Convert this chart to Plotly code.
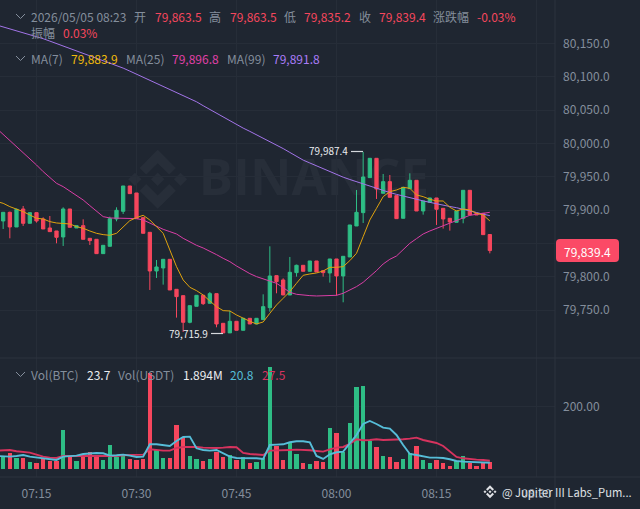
import pandas as pd
import plotly.graph_objects as go

# one minute candles, 07:09 is just off the left edge
times = pd.date_range('2026-05-05 07:09', periods=75, freq='min')

opens = [79886.0, 79883.8, 79896.8, 79874.8, 79901.8, 79880.3, 79896.3, 79886.8, 79873.3, 79868.8, 79859.8,
         79901.8, 79873.3, 79876.8, 79857.8, 79856.3, 79834.8, 79845.8, 79886.8, 79898.3, 79936.3, 79925.8,
         79888.8, 79866.8, 79808.8, 79813.3, 79826.3, 79781.3, 79771.8, 79731.8, 79755.8, 79772.3, 79760.3,
         79774.8, 79730.3, 79715.9, 79733.3, 79719.8, 79737.8, 79729.3, 79735.8, 79753.8, 79801.8, 79795.3,
         79772.8, 79806.3, 79817.3, 79808.3, 79823.8, 79809.3, 79805.8, 79826.8, 79801.3, 79829.8, 79876.3,
         79896.3, 79948.8, 79977.8, 79925.3, 79942.8, 79921.8, 79887.8, 79932.3, 79944.8, 79898.8, 79911.8,
         79918.3, 79902.8, 79887.8, 79881.8, 79887.8, 79929.8, 79895.3, 79895.3, 79863.5]
highs = [79890.0, 79896.8, 79897.8, 79902.3, 79906.3, 79896.3, 79896.3, 79889.3, 79891.3, 79868.8, 79904.3,
         79901.8, 79876.8, 79886.3, 79857.8, 79856.3, 79847.3, 79890.3, 79904.3, 79936.3, 79936.3, 79925.8,
         79888.8, 79866.8, 79825.3, 79826.3, 79826.3, 79781.3, 79771.8, 79756.8, 79772.3, 79772.3, 79777.3,
         79774.8, 79730.3, 79749.3, 79733.3, 79737.8, 79737.8, 79737.8, 79773.8, 79845.8, 79801.8, 79797.8,
         79829.8, 79818.3, 79817.3, 79823.8, 79823.8, 79809.3, 79826.8, 79826.8, 79830.8, 79877.8, 79930.3,
         79987.4, 79977.8, 79977.8, 79954.3, 79952.8, 79921.8, 79934.3, 79955.3, 79944.8, 79913.8, 79918.3,
         79918.3, 79902.8, 79887.8, 79898.8, 79929.8, 79929.8, 79895.3, 79895.3, 79863.5]
lows = [79880.0, 79871.8, 79857.8, 79874.8, 79876.3, 79880.3, 79881.3, 79871.8, 79867.8, 79850.3, 79846.3,
        79874.3, 79873.3, 79856.3, 79847.8, 79834.8, 79834.8, 79845.8, 79883.3, 79894.3, 79924.8, 79887.3,
        79865.3, 79780.3, 79798.3, 79788.3, 79780.3, 79738.8, 79717.3, 79730.3, 79755.8, 79757.8, 79760.3,
        79724.3, 79715.9, 79715.9, 79719.8, 79719.8, 79729.3, 79729.3, 79735.8, 79747.8, 79775.3, 79772.8,
        79772.8, 79800.3, 79808.3, 79808.3, 79807.3, 79800.3, 79791.3, 79771.8, 79761.8, 79829.8, 79876.3,
        79880.8, 79948.8, 79916.8, 79925.3, 79919.3, 79887.3, 79887.8, 79932.3, 79898.8, 79893.3, 79911.8,
        79877.8, 79872.3, 79869.3, 79881.8, 79880.3, 79892.8, 79892.8, 79863.3, 79835.2]
closes = [79884.0, 79896.8, 79874.8, 79901.3, 79880.3, 79896.3, 79883.8, 79871.8, 79867.8, 79859.3, 79901.8,
          79874.3, 79876.8, 79856.3, 79854.3, 79834.8, 79847.3, 79887.3, 79899.8, 79936.3, 79924.8, 79887.3,
          79865.3, 79808.8, 79814.8, 79826.3, 79780.3, 79770.3, 79731.8, 79756.8, 79772.3, 79759.8, 79774.8,
          79729.3, 79715.9, 79733.3, 79719.8, 79737.8, 79729.3, 79737.8, 79755.3, 79801.3, 79792.8, 79772.8,
          79806.8, 79817.3, 79808.3, 79823.8, 79807.3, 79806.3, 79826.8, 79801.3, 79830.8, 79877.8, 79896.8,
          79949.8, 79977.8, 79931.8, 79942.8, 79919.3, 79887.3, 79934.3, 79944.8, 79898.8, 79913.8, 79918.3,
          79901.3, 79886.8, 79882.3, 79898.8, 79929.8, 79892.8, 79892.8, 79863.3, 79839.4]

ma7 = [79913.0, 79910.3, 79905.3, 79901.8, 79897.8, 79892.8, 79887.8, 79886.8, 79882.8, 79880.8, 79880.3,
       79879.3, 79875.3, 79872.8, 79868.8, 79865.3, 79863.3, 79862.3, 79865.3, 79875.3, 79884.3, 79888.8,
       79892.3, 79885.3, 79875.3, 79865.3, 79840.3, 79815.3, 79795.3, 79784.3, 79779.3, 79772.8, 79763.8,
       79755.3, 79749.3, 79748.8, 79742.8, 79737.8, 79733.3, 79729.3, 79732.3, 79745.3, 79757.8, 79767.8,
       79777.8, 79790.3, 79802.3, 79804.3, 79805.8, 79808.8, 79814.3, 79814.3, 79815.3, 79824.3, 79835.3,
       79860.3, 79885.3, 79902.8, 79920.3, 79927.8, 79930.3, 79934.3, 79932.8, 79922.8, 79920.3, 79916.3,
       79913.8, 79913.8, 79904.3, 79898.8, 79901.8, 79900.3, 79895.3, 79892.8, 79883.9]
ma25 = [80022.8, 80013.8, 80004.3, 79995.3, 79986.3, 79977.3, 79967.8, 79957.8, 79948.8, 79940.3, 79935.3,
        79928.8, 79922.8, 79915.3, 79906.8, 79898.3, 79890.3, 79888.3, 79887.8, 79887.3, 79886.8, 79887.3,
        79885.3, 79880.3, 79875.3, 79871.3, 79867.8, 79864.3, 79857.8, 79852.3, 79847.3, 79843.3, 79838.8,
        79833.3, 79827.8, 79822.8, 79816.3, 79810.3, 79804.8, 79800.3, 79796.8, 79793.8, 79790.3, 79783.8,
        79776.8, 79773.8, 79772.3, 79771.8, 79771.3, 79771.3, 79771.3, 79772.3, 79775.3, 79780.3, 79785.3,
        79791.8, 79800.3, 79809.3, 79819.3, 79826.3, 79831.3, 79841.3, 79850.3, 79857.3, 79864.3, 79868.8,
        79872.8, 79876.3, 79880.8, 79885.3, 79889.3, 79892.3, 79893.8, 79895.3, 79896.8]
ma99 = [80177.8, 80174.9, 80172.2, 80169.5, 80166.8, 80164.0, 80160.8, 80157.2, 80153.6, 80150.0, 80146.4,
        80142.8, 80139.2, 80135.5, 80131.7, 80128.1, 80124.4, 80120.6, 80116.9, 80113.1, 80108.6, 80104.1,
        80099.5, 80095.0, 80090.5, 80085.8, 80081.3, 80077.1, 80072.8, 80068.3, 80062.6, 80056.7, 80050.9,
        80045.2, 80039.3, 80033.5, 80028.1, 80023.1, 80018.2, 80013.1, 80008.1, 80003.2, 79998.1, 79992.4,
        79986.6, 79980.8, 79975.1, 79970.8, 79966.3, 79961.9, 79957.4, 79953.1, 79949.5, 79946.0, 79942.6,
        79939.1, 79935.5, 79932.1, 79928.9, 79926.4, 79923.7, 79921.0, 79918.3, 79916.2, 79913.9, 79911.7,
        79909.4, 79907.5, 79905.5, 79903.7, 79901.6, 79899.1, 79896.5, 79894.0, 79891.8]

volumes = [40.0, 43.7, 53.3, 37.3, 37.3, 23.4, 19.2, 32.0, 27.7, 27.7, 126.7, 40.5, 27.7, 44.7, 55.4, 38.3,
           29.8, 76.7, 40.5, 42.6, 32.0, 29.8, 32.0, 308.9, 61.8, 37.3, 36.2, 142.7, 104.4, 42.6, 34.1, 27.7,
           33.0, 55.4, 40.5, 44.7, 29.8, 40.5, 21.3, 23.4, 35.1, 328.0, 74.6, 29.8, 83.1, 49.0, 19.2, 17.0,
           25.6, 23.4, 131.0, 115.0, 56.4, 147.0, 262.0, 266.0, 91.6, 70.3, 42.6, 40.5, 23.4, 33.0, 51.1,
           74.6, 29.8, 20.2, 29.8, 20.2, 10.7, 25.6, 42.6, 21.3, 10.7, 19.2, 23.7]
vol_ma5 = [42.6, 41.5, 40.5, 42.6, 45.8, 40.5, 37.3, 34.1, 32.0, 29.8, 40.5, 42.6, 43.7, 49.0, 51.1, 52.2,
           51.1, 43.7, 44.7, 46.9, 43.7, 39.4, 40.5, 79.9, 79.9, 77.7, 74.6, 90.5, 103.3, 104.4, 67.1, 61.8,
           59.6, 61.8, 50.1, 40.5, 36.2, 36.2, 36.2, 35.1, 33.0, 77.7, 78.8, 79.9, 86.3, 89.5, 89.5, 86.3,
           42.6, 33.0, 47.9, 54.3, 56.4, 83.1, 109.7, 144.8, 154.4, 144.8, 133.1, 129.9, 109.7, 77.7, 49.0,
           45.8, 40.5, 37.3, 37.3, 36.2, 32.0, 26.6, 24.5, 23.4, 23.4, 21.3, 20.8]
vol_ma10 = [59.6, 60.7, 61.8, 57.5, 56.4, 53.3, 46.9, 40.5, 37.3, 36.2, 42.6, 43.7, 42.6, 42.6, 42.6, 42.6,
            42.6, 41.5, 42.6, 44.7, 45.8, 45.8, 46.9, 63.9, 60.7, 59.6, 59.6, 68.2, 71.4, 72.4, 71.4, 69.2,
            68.2, 68.2, 69.2, 71.4, 70.3, 52.2, 49.0, 46.9, 45.8, 59.6, 59.6, 60.7, 61.8, 62.8, 62.8, 60.7,
            58.6, 56.4, 63.9, 69.2, 71.4, 80.9, 95.9, 92.7, 93.7, 95.9, 93.7, 93.7, 93.7, 95.9, 98.0, 101.2,
            93.7, 88.4, 84.1, 74.6, 56.4, 39.4, 35.1, 32.0, 30.9, 29.8, 27.5]

price_ticks = [79750, 79800, 79850, 79900, 79950, 80000, 80050, 80100, 80150]
# 79,850.0 sits under the last price tag, so only its grid line shows
price_labels = ['79,750.0', '79,800.0', '', '79,900.0', '79,950.0', '80,000.0', '80,050.0', '80,100.0', '80,150.0']
vol_ticks = [200]

BG = '#1f2631'
GRID = '#262d38'
LINE = '#2c333f'
GRAY = '#848e9c'
RED = '#f6465d'
GREEN = '#2ebd85'
FONT = 'Noto Sans CJK SC'
W, H = 640, 509
AXIS_X = 555
PRICE_BOTTOM = 358
VOL_BOTTOM = 477


def px(x):
    return x / W


def py(y):
    return 1 - y / H


bar_colors = [GREEN if c >= o else RED for o, c in zip(opens, closes)]

fig = go.Figure()
fig.add_trace(go.Candlestick(x=times, open=opens, high=highs, low=lows, close=closes,
                             xaxis='x2', yaxis='y', whiskerwidth=0,
                             increasing=dict(line=dict(color=GREEN, width=1), fillcolor=GREEN),
                             decreasing=dict(line=dict(color=RED, width=1), fillcolor=RED),
                             showlegend=False))
fig.add_trace(go.Scatter(x=times, y=ma99, mode='lines', xaxis='x2', yaxis='y', showlegend=False,
                         line=dict(color='#a274e8', width=1)))
fig.add_trace(go.Scatter(x=times, y=ma25, mode='lines', xaxis='x2', yaxis='y', showlegend=False,
                         line=dict(color='#d93ea6', width=1)))
fig.add_trace(go.Scatter(x=times, y=ma7, mode='lines', xaxis='x2', yaxis='y', showlegend=False,
                         line=dict(color='#e0a30e', width=1)))
fig.add_trace(go.Bar(x=times, y=volumes, marker=dict(color=bar_colors, line=dict(width=0)),
                     width=41000, xaxis='x', yaxis='y2', showlegend=False))
fig.add_trace(go.Scatter(x=times, y=vol_ma10, mode='lines', xaxis='x', yaxis='y2', showlegend=False,
                         line=dict(color='#d6335e', width=1.9)))
fig.add_trace(go.Scatter(x=times, y=vol_ma5, mode='lines', xaxis='x', yaxis='y2', showlegend=False,
                         line=dict(color='#56bdd8', width=1.9)))


def text(x, y, s, color=GRAY, size=12):
    fig.add_annotation(x=px(x - 1), y=py(y), xref='paper', yref='paper', text=s, showarrow=False,
                       xanchor='left', yanchor='middle', borderpad=0,
                       font=dict(family=FONT, size=size, color=color))


# legend rows
for x, y, s, c in [(31, 16.5, '2026/05/05 08:23', GRAY), (134, 16.5, '开', GRAY), (155, 16.5, '79,863.5', RED),
                   (209, 16.5, '高', GRAY), (229.5, 16.5, '79,863.5', RED), (284, 16.5, '低', GRAY),
                   (304, 16.5, '79,835.2', RED), (359, 16.5, '收', GRAY), (378.5, 16.5, '79,839.4', RED),
                   (433, 16.5, '涨跌幅', GRAY), (477, 16.5, '-0.03%', RED),
                   (31, 32.5, '振幅', GRAY), (63, 32.5, '0.03%', RED),
                   (31, 58.5, 'MA(7)', GRAY), (71, 58.5, '79,883.9', '#f0b90b'),
                   (126, 58.5, 'MA(25)', GRAY), (172, 58.5, '79,896.8', '#e040a8'),
                   (227, 58.5, 'MA(99)', GRAY), (273, 58.5, '79,891.8', '#a97cf8'),
                   (31, 374.5, 'Vol(BTC)', GRAY), (87, 374.5, '23.7', '#eaecef'),
                   (118, 374.5, 'Vol(USDT)', GRAY), (183, 374.5, '1.894M', '#eaecef'),
                   (230, 374.5, '20.8', '#56bdd8'), (262, 374.5, '27.5', '#d6335e')]:
    text(x, y, s, c)

# high / low markers
text(309, 151, '79,987.4', '#eaecef', 10)
text(169, 333.5, '79,715.9', '#eaecef', 10)

shapes = []


def hline(x0, x1, y, color, width=1):
    shapes.append(dict(type='line', xref='paper', yref='paper', x0=px(x0), x1=px(x1), y0=py(y), y1=py(y),
                       line=dict(color=color, width=width)))


hline(351, 363, 151.5, '#d5d8dc', 1.2)
hline(211, 223, 333.5, '#d5d8dc', 1.2)
hline(0, W, PRICE_BOTTOM, LINE)
hline(0, W, VOL_BOTTOM, LINE)
shapes.append(dict(type='line', xref='paper', yref='paper', x0=px(AXIS_X), x1=px(AXIS_X), y0=0, y1=1,
                   line=dict(color=LINE, width=1)))

# collapse chevrons next to the legend rows
for y in [14, 56, 372]:
    shapes.append(dict(type='path', xref='paper', yref='paper',
                       path=f'M{px(16)},{py(y)} L{px(20.5)},{py(y + 4.5)} L{px(25)},{py(y)}',
                       line=dict(color=GRAY, width=1)))

# Binance logo, polygons on a 126.61 unit box
logo = [[(38.73, 53.2), (63.32, 28.62), (87.92, 53.22), (102.22, 38.91), (63.32, 0), (24.43, 38.9)],
        [(38.73, 73.41), (24.42, 87.71), (63.32, 126.61), (102.22, 87.7), (87.91, 73.4), (63.32, 98)],
        [(0, 63.31), (14.3, 49), (28.61, 63.31), (14.31, 77.61)],
        [(97.99, 63.31), (112.3, 49), (126.61, 63.31), (112.3, 77.61)],
        [(77.83, 63.3), (63.32, 48.78), (48.81, 63.28), (63.32, 77.8)]]


def add_logo(cx, cy, size, color, layer):
    k = size / 126.61
    for poly in logo:
        pts = [f'{px(cx + (a - 63.3) * k)},{py(cy + (b - 63.3) * k)}' for a, b in poly]
        shapes.append(dict(type='path', xref='paper', yref='paper', layer=layer, fillcolor=color,
                           line=dict(width=0), path='M' + ' L'.join(pts) + ' Z'))


add_logo(157.7, 179.3, 59, '#272e39', 'below')
add_logo(490, 491.7, 13, '#dfe1e5', 'above')
shapes.append(dict(type='rect', xref='paper', yref='paper', layer='below', x0=px(196), x1=px(432),
                   y0=py(197), y1=py(161), line=dict(width=0), fillcolor='rgba(0,0,0,0)',
                   label=dict(text='BINANCE', textposition='middle center',
                              font=dict(family='Open Sans', size=51, color='#272e39', weight='bold'))))

# last price tag, rounded box
x0, x1, y0, y1, r = px(556), px(619), py(239), py(262), 4
rx, ry = r / W, r / H
shapes.append(dict(type='path', xref='paper', yref='paper', fillcolor='#fb4a66', line=dict(width=0),
                   path=f'M{x0 + rx},{y0} L{x1 - rx},{y0} Q{x1},{y0} {x1},{y0 - ry} L{x1},{y1 + ry} '
                        f'Q{x1},{y1} {x1 - rx},{y1} L{x0 + rx},{y1} Q{x0},{y1} {x0},{y1 + ry} '
                        f'L{x0},{y0 - ry} Q{x0},{y0} {x0 + rx},{y0} Z'))
fig.add_annotation(x=px(587.5), y=py(251), xref='paper', yref='paper', text='79,839.4', showarrow=False,
                   xanchor='center', yanchor='middle', borderpad=0,
                   font=dict(family=FONT, size=12, color='#ffffff'))

# author watermark, sits on top of the 08:30 tick
text(501.5, 492, '@ Jupiter III Labs_Pum...', '#dfe1e5', 11.2)

start = '2026-05-05 07:09:31.5'
end = '2026-05-05 08:32:46.5'
grid = dict(showgrid=True, gridcolor=GRID, gridwidth=1, zeroline=False, showline=False)
fig.update_layout(
    width=W, height=H, margin=dict(l=0, r=0, t=0, b=0), autosize=False,
    paper_bgcolor=BG, plot_bgcolor=BG, showlegend=False, hovermode=False, bargap=0,
    font=dict(family=FONT, size=12, color=GRAY), shapes=shapes,
    xaxis=dict(domain=[0, px(AXIS_X)], anchor='y2', range=[start, end], type='date', tick0='2026-05-05 07:00',
               dtick=900000, tickformat='%H:%M', tickfont=dict(size=12, color=GRAY), ticks='',
               ticklabelstandoff=8, rangeslider=dict(visible=False), **grid),
    xaxis2=dict(domain=[0, px(AXIS_X)], anchor='y', range=[start, end], type='date', tick0='2026-05-05 07:00',
                dtick=900000, showticklabels=False, ticks='', rangeslider=dict(visible=False), **grid),
    yaxis=dict(domain=[py(PRICE_BOTTOM), 1], anchor='x2', side='right', range=[79678.25, 80215.25],
               tickvals=price_ticks, ticktext=price_labels, tickfont=dict(size=12, color=GRAY), ticks='',
               ticklabelstandoff=7, **grid),
    yaxis2=dict(domain=[py(VOL_BOTTOM), py(PRICE_BOTTOM)], anchor='x', side='right', range=[-24.6, 355.6],
                tickvals=vol_ticks, tickformat='.2f', tickfont=dict(size=12, color=GRAY), ticks='',
                ticklabelstandoff=7, **grid),
)

fig.write_html("out.html", config=dict(displayModeBar=False),
               post_script="document.body.style.margin='0';document.body.style.background='" + BG + "';")
